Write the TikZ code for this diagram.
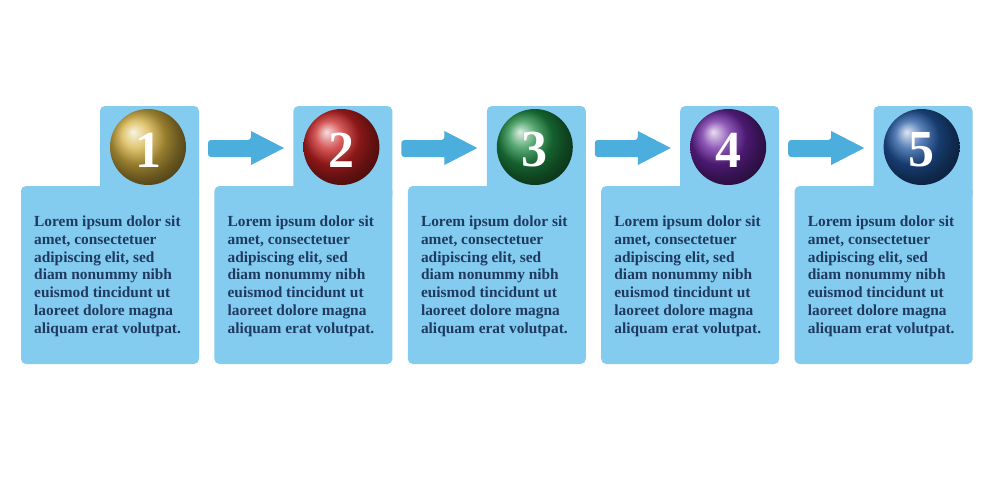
\documentclass[tikz,border=0pt]{standalone}
\usepackage{fontspec}
\setmainfont{Liberation Serif}
\definecolor{boxc}{HTML}{84CBF0}
\definecolor{arrc}{HTML}{4BAEDC}
\definecolor{txtc}{HTML}{1E3A5F}
\definecolor{c1}{HTML}{D4B040}
\definecolor{c2}{HTML}{C82222}
\definecolor{c3}{HTML}{1E8A42}
\definecolor{c4}{HTML}{6A24A0}
\definecolor{c5}{HTML}{2056A0}
\begin{document}
\begin{tikzpicture}[x=1pt,y=-1pt,
  panel/.style={fill=boxc,rounded corners=5pt},
  body/.style={anchor=north west,inner sep=0pt,align=left,text=txtc,font=\bfseries\fontsize{15.4}{17.7}\selectfont},
  num/.style={text=white,font=\bfseries\fontsize{52}{52}\selectfont}]
\useasboundingbox (0,0) rectangle (992,483);
\foreach \i/\c in {1/c1,2/c2,3/c3,4/c4,5/c5}{
  \pgfmathsetmacro{\dx}{(\i-1)*193.4}
  \begin{scope}[xshift=\dx pt]
  \fill[panel] (21,186) rectangle (199,364);
  \fill[panel] (100,106) rectangle (199,200);
  \shade[ball color=\c] (148,147) circle (38);
  \node[num] (n\i) at (148,150) {\i};
  \node[body] (t\i) at (34,216) {Lorem ipsum dolor sit\\amet, consectetuer\\adipiscing elit, sed\\diam nonummy nibh\\euismod tincidunt ut\\laoreet dolore magna\\aliquam erat volutpat.};
  \end{scope}
}
\foreach \i in {1,...,4}{
  \pgfmathsetmacro{\dx}{(\i-1)*193.4}
  \begin{scope}[xshift=\dx pt]
  \fill[arrc,rounded corners=3pt] (208,140) -- (251,140) [sharp corners]-- (251,131) -- (284,148) -- (251,165) -- (251,157) [rounded corners=3pt]-- (208,157) -- cycle;
  \end{scope}
}
\end{tikzpicture}
\end{document}
